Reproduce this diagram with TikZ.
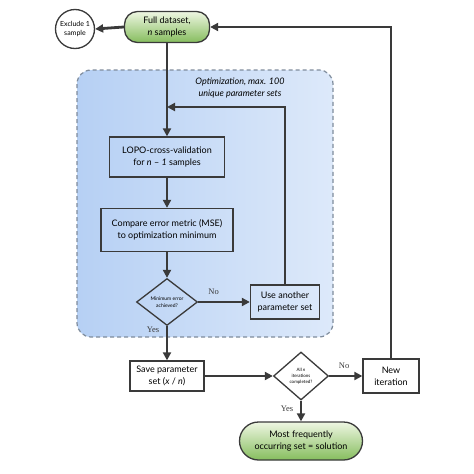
\documentclass[tikz,border=0pt]{standalone}
\usepackage{fontspec}
\setmainfont{Lato}
\newfontfamily\serifl{Liberation Serif}
\usetikzlibrary{shapes.geometric,arrows.meta}
\definecolor{ln}{HTML}{3A3A3A}
\definecolor{gtop}{HTML}{EEF6E2}
\definecolor{gbot}{HTML}{86BD5E}
\definecolor{bleft}{HTML}{B6D0F4}
\definecolor{bright}{HTML}{DDE9FA}
\definecolor{bdash}{HTML}{7F8C9C}
\tikzset{
  arr/.style={draw=ln,line width=2.8pt,-{Triangle[length=8pt,width=8pt]}},
  boxx/.style={draw=ln,line width=1.3pt,align=center,font=\fontsize{9}{12}\selectfont,inner sep=2pt},
  pill/.style={boxx,rounded corners=13pt,top color=gtop,bottom color=gbot,middle color=gtop!50!gbot},
  dia/.style={draw=ln,line width=1.3pt,diamond,fill=white,inner sep=0pt,align=center},
  lab/.style={font=\serifl\fontsize{8.5}{10}\selectfont,text=ln}
}
\begin{document}
\begin{tikzpicture}[x=1pt,y=-1pt]
\useasboundingbox (0,0) rectangle (474,474);
% region
\path[left color=bleft,right color=bright,draw=bdash,dashed,line width=1.2pt,dash pattern=on 4pt off 3pt,rounded corners=14pt] (77,70) rectangle (333,337);
\node[font=\itshape\fontsize{9}{12}\selectfont,align=center] (title) at (240,88) {Optimization, max. 100\\unique parameter sets};
% nodes
\node[pill,minimum width=85pt,minimum height=31pt] (full) at (167,27) {Full dataset,\\\textit{n} samples};
\node[draw=ln,line width=1.3pt,circle,fill=white,minimum size=39pt,inner sep=0pt,align=center,font=\fontsize{7}{9}\selectfont] (excl) at (75,29) {Exclude 1\\sample};
\node[boxx,minimum width=115pt,minimum height=40pt] (lopo) at (167,157) {LOPO-cross-validation\\for \textit{n} -- \textit{1} samples};
\node[boxx,minimum width=132pt,minimum height=43pt] (cmp) at (167,230) {Compare error metric (MSE)\\to optimization minimum};
\node[dia,minimum width=61pt,minimum height=47pt,font=\fontsize{5}{6.5}\selectfont,fill=none] (d1) at (167,302) {Minimum error\\achieved?};
\node[boxx,minimum width=69pt,minimum height=34pt] (use) at (285,302) {Use another\\parameter set};
\node[boxx,fill=white,minimum width=74pt,minimum height=30pt] (save) at (167,376) {Save parameter\\set (\textit{x} / \textit{n})};
\node[dia,minimum width=55pt,minimum height=48pt,font=\fontsize{4.5}{6}\selectfont] (d2) at (301,376) {All \textit{n}\\iterations\\completed?};
\node[boxx,fill=white,minimum width=56pt,minimum height=34pt] (newit) at (391,376) {New\\iteration};
\node[pill,rounded corners=19pt,minimum width=123pt,minimum height=38pt] (most) at (301,441) {Most frequently\\occurring set = solution};
\coordinate (fb) at (167,107);
% connectors
\draw[arr] (full.west) -- (excl.east);
\draw[arr] (newit.north) |- (full.east);
\draw[arr] (full.south) -- (lopo.north);
\draw[arr] (use.north) |- (fb);
\draw[arr] (lopo.south) -- (cmp.north);
\draw[arr] (cmp.south) -- (d1.north);
\draw[arr] (d1.east) -- node[lab,above=3pt,pos=0.3] (no1) {No} (use.west);
\draw[arr] (d1.south) -- node[lab,left=3pt,pos=0.12] (yes1) {Yes} (save.north);
\draw[arr] (save.east) -- (d2.west);
\draw[arr] (d2.east) -- node[lab,above=3pt,pos=0.45] (no2) {No} (newit.west);
\draw[arr] (d2.south) -- node[lab,left=3pt,pos=0.4] (yes2) {Yes} (most.north);
\end{tikzpicture}
\end{document}
